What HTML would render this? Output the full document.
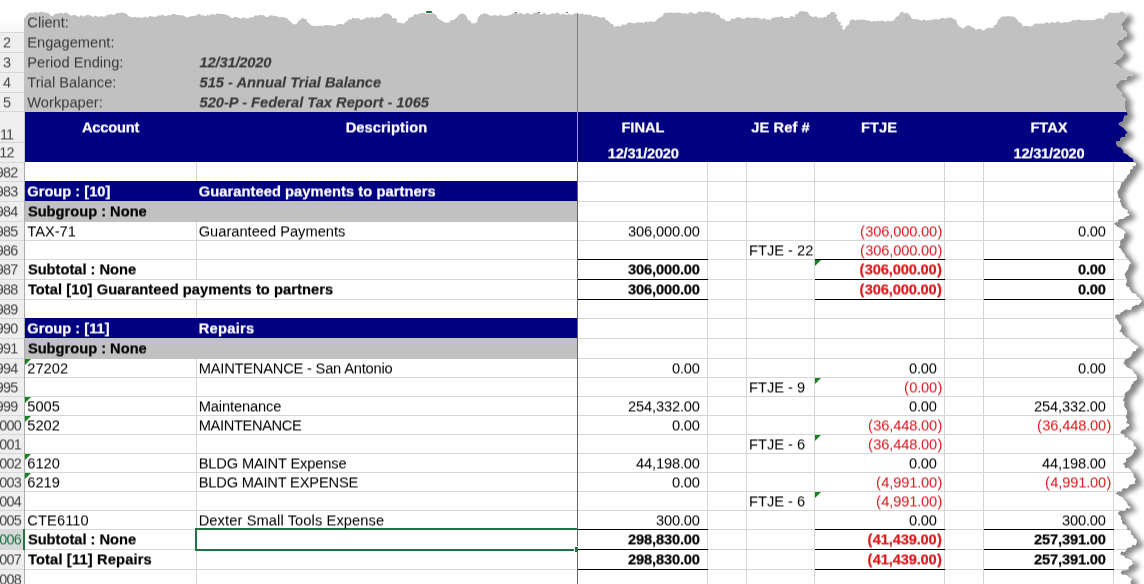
<!DOCTYPE html>
<html><head><meta charset="utf-8"><title>Trial Balance</title>
<style>
html,body{margin:0;padding:0;background:#fff;}
body{width:1144px;height:584px;overflow:hidden;position:relative;font-family:"Liberation Sans",sans-serif;font-size:14.67px;color:#000;}
#shadow{position:absolute;left:0;top:0;}
#txt{position:absolute;left:0;top:0;width:1144px;height:584px;filter:url(#sh);}
#paper{position:absolute;left:0;top:0;width:1144px;height:584px;overflow:hidden;background:#fff;clip-path:url(#tear);}
.b{position:absolute;}
.t{position:absolute;white-space:nowrap;line-height:19px;height:19px;}
.r{text-align:right;}
.c{text-align:center;}
.bd{font-weight:bold;-webkit-text-stroke:0.22px;}
.w{color:#fff;}
.red{color:#dc1a1c;}
.dg{color:#3a3a3a;}
.bi{font-weight:bold;font-style:italic;color:#3a3a3a;-webkit-text-stroke:0.15px;}
.sp{display:inline-block;width:5.7px;}
.n{letter-spacing:-0.15px;}
.m{margin:0 0.4px;}
.rh{position:absolute;left:-11.4px;width:36px;text-align:center;color:#444;line-height:19px;height:19px;font-size:14.4px;letter-spacing:-0.75px;white-space:nowrap;}
.tri{position:absolute;width:0;height:0;border-top:6px solid #14821e;border-right:6px solid transparent;}

</style></head><body>
<svg id="shadow" width="1144" height="584" viewBox="0 0 1144 584">
<defs><filter id="blur" x="-5%" y="-5%" width="110%" height="110%"><feGaussianBlur stdDeviation="2.8"/></filter>
<filter id="sh" x="0" y="0" width="100%" height="100%" color-interpolation-filters="sRGB"><feConvolveMatrix order="1 2" kernelMatrix="0.55 0.45" targetX="0" targetY="1" divisor="1" edgeMode="none" preserveAlpha="false"/></filter>
<clipPath id="tear" clipPathUnits="userSpaceOnUse"><polygon shape-rendering="crispEdges" points="-5.0,-5.0 24.0,-5.0 24.0,19.0 25.1,16.7 27.0,15.0 28.8,13.0 31.5,12.6 33.5,13.0 35.5,11.5 37.5,12.7 39.5,12.3 41.5,11.5 43.5,12.6 45.5,12.6 48.4,12.9 50.2,15.1 52.4,16.6 54.1,14.6 56.4,13.6 58.9,13.4 61.2,12.6 63.0,13.8 65.3,12.4 67.3,13.1 69.0,14.5 70.9,15.7 73.0,15.1 75.1,15.0 77.0,15.7 79.0,17.0 81.0,14.7 83.0,16.8 85.0,15.4 87.0,15.1 89.0,15.1 91.0,15.7 93.0,17.0 95.0,15.4 97.0,16.6 99.0,16.8 101.0,16.1 103.0,16.7 105.0,16.6 106.9,14.9 109.1,14.4 111.3,14.2 113.8,14.9 115.8,13.7 117.9,12.8 120.3,13.0 122.4,12.2 124.6,13.2 126.8,13.9 128.4,16.1 130.6,16.9 132.9,17.5 135.0,16.7 137.1,17.5 139.2,17.3 141.3,18.1 143.4,17.6 145.4,16.4 147.6,18.1 149.6,15.8 151.7,16.5 153.8,16.6 156.0,17.0 157.9,15.2 160.1,15.8 162.1,14.4 164.4,15.7 166.5,15.7 168.5,15.0 170.7,15.5 172.6,13.8 174.8,14.0 176.9,14.9 179.1,15.0 181.3,15.3 183.5,15.4 185.5,16.7 187.6,17.4 190.0,16.6 192.3,16.0 194.8,15.9 197.0,14.9 199.1,13.8 201.2,15.4 203.3,15.3 205.4,16.2 207.5,14.9 209.6,15.6 211.5,14.1 213.5,14.2 215.5,14.8 217.4,13.0 219.5,14.0 221.5,14.0 224.0,14.1 226.2,14.8 228.5,15.6 230.2,17.5 232.4,18.3 234.6,16.8 236.8,17.2 239.0,17.7 241.1,19.0 243.4,17.1 245.5,18.2 247.7,18.4 249.7,17.6 252.1,17.6 254.0,16.5 255.6,14.9 257.6,16.0 259.8,14.7 261.8,15.2 263.9,15.3 265.8,16.8 267.8,17.2 270.1,15.3 272.1,15.5 274.2,15.9 276.2,16.1 278.2,16.9 280.3,17.4 282.4,16.7 284.4,17.5 287.1,17.9 288.4,20.1 290.4,21.4 292.0,23.2 294.0,24.5 296.5,24.0 297.8,22.1 299.3,20.3 301.2,19.1 302.8,17.5 304.1,19.1 306.7,19.1 307.0,22.1 308.8,23.0 310.3,24.5 312.0,25.6 314.1,26.2 316.2,25.9 318.3,25.9 320.4,25.2 322.5,26.5 324.6,25.1 326.7,25.1 328.8,25.4 330.9,25.3 333.0,25.8 335.1,26.2 337.1,24.6 339.2,24.1 341.5,24.0 343.8,24.5 344.9,22.3 347.1,21.4 348.3,19.3 351.4,19.7 352.6,17.5 354.7,18.4 357.2,17.9 359.3,18.8 361.3,20.1 363.3,19.0 365.4,18.4 367.3,17.1 370.0,18.2 371.8,16.6 374.0,18.2 376.5,17.1 378.8,17.5 381.1,16.5 382.9,14.6 385.2,13.6 387.9,13.6 389.8,14.6 391.5,15.7 392.2,18.2 394.9,18.1 396.7,19.1 396.9,22.3 399.2,22.7 401.8,23.2 404.5,23.6 405.5,21.4 407.8,20.5 408.4,17.9 411.0,17.3 413.4,16.5 414.1,14.0 416.2,14.8 418.2,14.3 420.2,13.1 422.2,13.3 424.2,12.6 426.3,14.1 428.3,13.4 430.4,13.9 432.4,13.1 434.4,13.9 436.3,14.9 437.2,17.4 438.7,18.9 440.6,19.9 442.4,21.0 444.2,22.2 446.4,22.7 449.0,22.4 450.8,20.3 453.4,20.1 455.3,18.8 457.0,17.2 458.5,15.2 460.4,13.9 463.0,13.6 464.9,14.6 466.4,16.0 467.2,18.2 468.2,20.2 470.6,20.6 471.2,23.0 473.5,23.6 475.9,22.9 477.3,21.2 477.6,18.6 478.8,16.7 480.3,15.1 482.3,14.0 484.4,13.4 486.4,13.6 488.3,14.8 490.3,15.7 492.3,15.7 494.4,15.0 496.3,15.6 498.3,16.1 500.5,14.5 502.4,15.7 504.5,15.7 506.6,16.0 508.5,15.3 510.5,14.9 512.4,13.8 514.2,12.6 516.4,13.1 518.4,13.9 520.4,12.7 522.4,14.0 524.4,14.4 526.4,13.0 528.4,13.0 530.4,14.5 532.4,13.9 534.4,12.5 536.4,12.4 538.4,12.5 540.4,14.5 542.4,14.3 544.5,12.6 546.4,14.4 548.4,14.8 550.4,14.0 552.5,13.2 554.5,13.8 556.5,12.7 558.5,12.4 560.5,14.9 562.5,14.1 564.5,13.8 566.5,14.9 568.5,13.7 570.5,14.8 572.5,14.7 574.5,13.2 576.5,13.3 578.5,13.4 580.5,14.0 582.6,13.6 584.6,14.8 586.7,14.3 588.7,15.0 590.8,14.5 592.6,16.8 594.8,15.7 596.8,16.2 598.8,16.8 600.8,18.0 603.0,17.0 605.0,17.5 605.7,19.8 607.9,20.5 609.3,22.1 610.8,23.6 613.2,24.2 613.7,26.6 616.0,26.4 618.4,25.8 620.7,26.6 622.5,24.3 625.7,25.0 627.7,23.1 629.7,22.2 631.7,22.8 633.8,23.4 635.8,22.9 637.8,22.2 639.8,22.6 641.8,22.6 643.9,23.1 645.8,21.2 647.9,22.3 649.8,21.4 651.9,21.4 653.9,21.9 656.0,21.1 657.2,19.3 658.9,18.0 660.8,17.1 662.7,16.1 663.6,13.8 665.3,12.6 667.4,12.9 669.4,12.6 671.5,12.6 673.6,13.1 675.7,12.5 677.8,12.7 679.8,12.5 681.9,13.7 684.0,13.1 686.0,13.6 688.1,13.7 690.2,12.0 692.3,12.8 694.4,13.8 696.4,13.5 698.5,11.7 700.6,11.6 702.6,12.4 704.7,11.5 706.8,11.9 708.9,11.5 711.0,13.0 713.0,13.3 715.1,12.6 716.2,14.8 719.2,14.7 720.0,17.2 721.8,18.5 724.4,18.9 725.6,21.0 728.0,21.2 730.2,20.8 731.7,18.2 734.4,19.3 736.1,17.5 738.3,17.3 740.4,17.6 742.6,19.0 744.8,18.7 747.0,17.0 749.1,17.8 751.3,18.1 753.5,17.7 755.7,17.4 757.8,17.8 760.0,18.4 762.0,19.3 764.4,17.8 766.3,19.6 768.4,19.6 770.5,20.1 771.6,18.0 773.7,17.7 775.7,17.0 777.8,17.3 780.0,17.0 782.1,15.9 784.3,18.3 786.4,17.7 788.6,18.2 790.7,16.0 792.9,16.4 795.0,17.0 795.2,14.6 797.9,14.0 798.5,11.9 800.9,11.3 803.3,10.9 805.7,11.7 808.1,11.9 808.7,14.3 810.3,15.8 812.4,17.0 814.4,16.4 816.4,16.2 818.4,18.3 820.4,17.5 822.4,17.9 824.4,16.4 826.4,17.5 827.0,14.9 829.7,14.1 830.8,11.9 834.3,11.9 835.4,13.6 837.2,15.0 836.2,17.9 837.8,19.3 838.4,21.4 841.0,22.3 840.2,25.1 843.0,25.9 842.1,28.7 843.9,30.1 845.0,28.4 845.9,26.5 847.5,25.2 849.5,24.1 849.2,21.4 850.9,20.1 853.0,19.2 855.0,20.4 857.1,19.7 859.2,19.5 861.2,19.8 863.3,19.6 865.4,20.1 867.4,20.5 869.5,20.5 871.5,21.8 873.6,20.7 875.6,21.4 877.7,20.6 879.7,21.2 881.8,20.4 883.9,21.1 885.9,21.9 887.8,20.2 890.4,21.6 892.5,20.7 894.6,20.1 895.3,17.8 897.2,16.3 899.5,15.1 899.9,12.6 902.2,11.6 904.6,13.4 906.9,12.6 908.7,14.1 910.4,15.9 911.5,18.2 913.8,19.2 915.9,19.0 917.9,19.4 919.9,19.9 921.9,20.8 924.0,19.2 926.0,20.5 928.1,20.3 930.1,20.2 932.2,19.6 934.2,19.6 936.3,18.9 938.3,20.1 940.4,18.5 942.8,17.7 945.7,18.8 947.9,17.5 950.1,17.5 952.2,17.8 954.0,19.2 956.3,20.2 957.0,22.7 957.9,24.9 959.4,26.4 961.3,27.6 963.2,28.8 964.7,27.2 966.4,25.9 968.5,25.3 970.5,25.9 972.1,27.4 974.2,27.8 975.5,29.7 977.7,29.3 979.9,28.6 982.3,30.2 984.5,30.0 986.6,28.6 988.7,27.6 991.0,28.0 993.5,27.8 994.3,25.3 996.4,24.5 997.4,22.3 998.0,19.8 1000.1,18.4 1001.7,16.6 1003.9,16.5 1006.1,16.5 1008.2,15.7 1010.4,16.5 1012.6,16.4 1014.9,16.9 1015.9,18.8 1017.7,19.9 1018.6,21.9 1020.7,22.7 1022.1,24.1 1022.7,26.4 1024.9,25.9 1027.1,25.7 1029.3,26.6 1031.5,26.4 1033.4,24.9 1035.2,23.3 1037.3,23.8 1039.4,23.5 1041.5,23.5 1043.6,23.8 1045.6,22.5 1047.6,22.2 1049.8,23.8 1051.8,21.5 1053.9,22.9 1056.0,22.6 1058.0,20.9 1060.2,22.8 1062.2,22.9 1064.3,22.1 1066.4,22.2 1068.5,22.3 1070.5,21.4 1072.8,19.9 1075.5,20.2 1078.0,19.5 1080.1,19.5 1082.2,20.4 1084.3,20.3 1086.4,20.3 1088.5,19.7 1090.6,20.5 1092.7,20.0 1094.8,20.0 1096.9,18.8 1099.0,18.3 1101.1,18.5 1103.2,19.5 1104.2,17.6 1104.9,15.4 1107.7,14.8 1108.3,12.6 1110.5,12.8 1112.8,12.9 1115.0,12.9 1117.3,13.1 1119.5,12.6 1121.8,11.3 1124.0,12.6 1125.4,14.7 1127.8,15.7 1125.9,17.2 1125.0,19.5 1123.5,21.3 1121.9,23.1 1120.8,25.2 1123.0,26.6 1122.8,29.5 1125.1,30.9 1126.8,32.6 1127.1,35.2 1125.9,36.9 1123.5,37.2 1122.7,39.6 1120.3,39.7 1118.3,40.5 1117.4,42.8 1115.8,44.0 1117.5,45.3 1118.8,46.9 1119.9,48.8 1121.2,50.4 1122.9,51.6 1124.6,52.9 1122.9,54.1 1122.4,56.6 1120.8,57.9 1119.1,59.2 1116.7,59.8 1116.0,62.0 1114.1,63.0 1112.7,64.6 1115.1,64.2 1116.9,65.1 1118.6,66.3 1120.1,68.1 1121.9,68.9 1123.8,69.6 1126.1,69.5 1127.8,70.8 1129.7,71.4 1131.6,72.2 1133.8,72.1 1135.3,73.8 1132.9,73.9 1131.9,76.4 1129.1,75.6 1127.2,76.7 1126.4,79.8 1124.0,79.7 1121.7,79.9 1119.6,80.5 1118.3,82.7 1116.7,84.1 1114.5,84.5 1116.4,85.7 1116.1,88.5 1118.9,89.0 1119.4,91.3 1121.6,92.2 1122.0,94.5 1122.4,96.8 1124.6,97.8 1125.8,100.0 1124.2,102.5 1125.2,104.7 1124.5,107.1 1125.2,109.3 1125.9,111.6 1127.8,113.5 1127.0,115.5 1124.3,115.8 1123.8,118.0 1123.3,120.3 1122.0,121.9 1119.7,122.5 1118.3,124.0 1120.0,125.4 1121.8,126.7 1123.7,127.9 1124.9,129.8 1126.5,131.3 1127.8,133.2 1125.5,134.0 1125.2,137.1 1122.2,137.0 1120.4,138.3 1119.9,141.2 1116.8,141.0 1115.8,143.3 1116.9,145.2 1118.0,147.0 1120.6,147.3 1121.9,148.9 1123.3,150.4 1123.7,153.0 1125.9,153.7 1127.8,154.8 1129.1,156.4 1130.9,157.6 1132.8,158.6 1133.4,160.9 1136.0,163.4 1135.6,165.8 1132.8,166.4 1132.7,169.0 1130.0,169.8 1130.2,172.6 1128.9,174.3 1127.1,175.7 1126.5,177.9 1124.6,179.2 1124.0,181.2 1121.8,182.3 1121.1,184.2 1120.4,186.2 1120.0,188.2 1118.5,189.7 1117.5,191.5 1117.7,193.8 1118.2,195.7 1118.4,197.8 1120.7,199.1 1119.7,201.6 1121.0,203.3 1121.5,205.2 1122.4,207.1 1124.0,208.4 1126.0,209.2 1127.8,210.3 1127.5,213.3 1129.7,214.0 1128.5,215.9 1126.2,216.3 1124.7,217.7 1123.0,218.9 1120.6,219.0 1118.5,219.6 1117.7,222.3 1115.4,222.5 1113.9,224.0 1115.9,224.9 1117.2,226.7 1119.2,227.6 1121.3,228.4 1123.0,229.7 1124.6,231.0 1125.9,232.9 1124.0,234.2 1124.0,236.4 1123.7,238.5 1121.2,239.4 1120.0,241.1 1120.3,243.5 1120.1,245.7 1118.3,247.0 1120.2,248.3 1121.7,249.9 1122.4,252.1 1124.2,253.4 1125.2,255.4 1125.9,257.6 1128.2,259.1 1129.5,261.5 1131.5,263.3 1129.5,264.5 1128.7,266.5 1128.2,268.8 1127.1,270.6 1125.7,272.2 1124.6,274.0 1125.3,276.0 1125.8,278.1 1126.9,280.1 1126.8,282.3 1125.4,284.7 1127.0,286.6 1129.1,287.3 1129.9,289.5 1131.1,291.1 1132.2,293.0 1134.8,293.2 1136.2,294.7 1137.2,296.6 1139.2,297.6 1140.6,299.3 1142.0,301.0 1140.4,303.1 1138.5,305.0 1136.1,304.8 1134.3,305.9 1132.3,306.6 1131.2,309.5 1129.3,310.3 1126.6,309.6 1124.5,309.9 1123.0,311.8 1120.9,312.4 1119.6,314.6 1117.3,314.5 1115.2,315.1 1115.5,317.7 1117.0,319.6 1118.2,321.6 1119.2,323.8 1121.5,325.2 1121.3,327.5 1120.8,329.8 1119.0,331.5 1121.4,332.0 1122.7,334.1 1124.4,335.7 1125.9,337.5 1128.4,337.8 1129.4,339.6 1131.0,340.9 1132.2,342.6 1134.2,343.4 1135.5,345.0 1137.9,345.5 1138.5,347.8 1136.5,348.7 1136.0,351.1 1133.3,351.2 1132.3,353.2 1131.4,355.2 1130.2,357.0 1128.5,358.1 1126.3,358.8 1124.7,360.1 1124.3,362.6 1122.1,363.3 1124.6,363.7 1125.8,366.0 1127.6,367.5 1129.8,368.4 1131.9,369.4 1133.4,371.3 1134.1,373.3 1136.4,374.5 1136.7,376.8 1137.2,378.9 1136.0,380.5 1133.7,381.3 1133.1,383.4 1131.4,384.6 1130.9,386.8 1130.2,388.8 1128.9,390.3 1127.1,391.5 1124.9,393.2 1124.4,395.7 1124.2,398.3 1122.7,400.3 1124.6,402.0 1124.2,404.5 1124.5,406.7 1125.8,408.6 1127.0,410.6 1127.1,412.9 1126.4,414.9 1125.5,416.8 1127.1,419.0 1127.3,421.1 1125.9,423.0 1128.0,423.6 1129.7,425.0 1128.2,426.4 1126.2,427.2 1125.4,429.4 1122.9,429.5 1121.4,430.8 1120.2,432.6 1122.0,433.9 1124.2,434.5 1124.8,437.4 1127.6,437.2 1128.6,439.5 1130.9,440.1 1132.6,441.5 1133.8,443.3 1133.7,445.8 1135.9,446.9 1136.6,449.0 1134.3,449.7 1133.8,452.0 1133.0,454.1 1131.6,455.5 1129.8,456.7 1127.9,457.8 1126.0,458.8 1126.2,461.7 1124.3,462.8 1122.7,464.1 1124.7,465.0 1124.9,467.9 1127.9,467.7 1129.6,469.0 1131.1,470.4 1132.1,472.5 1133.4,474.1 1133.8,477.1 1136.0,479.2 1134.7,481.3 1135.3,483.8 1133.2,484.1 1131.1,484.3 1129.3,485.3 1128.2,487.6 1126.5,488.8 1123.9,487.9 1122.2,489.2 1121.2,491.7 1118.7,491.1 1117.2,492.6 1115.2,493.2 1117.1,494.3 1118.9,495.6 1120.8,496.6 1122.8,497.6 1124.1,499.5 1125.6,501.0 1127.1,502.7 1128.1,505.7 1130.9,507.1 1129.4,508.8 1126.6,507.7 1125.6,510.3 1123.5,510.8 1121.1,510.6 1119.2,511.4 1117.7,513.0 1118.9,514.8 1120.8,516.3 1120.9,518.7 1122.2,520.5 1122.0,523.1 1124.0,524.5 1126.0,525.6 1127.0,527.5 1127.2,530.0 1130.3,530.2 1130.9,532.4 1131.4,534.7 1133.4,535.8 1133.6,537.9 1136.1,539.1 1136.9,541.0 1136.6,543.3 1135.4,545.4 1132.4,544.7 1131.5,547.3 1129.0,547.4 1126.9,548.3 1125.9,550.7 1124.2,552.0 1121.4,551.6 1120.2,553.8 1121.8,555.3 1124.2,555.8 1125.3,558.0 1127.7,558.5 1129.6,559.6 1131.8,560.3 1132.5,563.2 1134.7,563.9 1132.4,564.1 1131.0,565.8 1128.9,566.2 1128.4,569.3 1126.4,570.0 1124.3,570.6 1121.9,570.6 1120.8,572.7 1122.1,574.8 1124.7,574.5 1126.8,575.3 1128.5,576.7 1130.3,577.9 1132.2,579.0 1130.5,581.2 1131.0,584.0 1131.8,586.0 1130.2,588.0 1131.0,590.0 -5.0,590.0"/></clipPath></defs>
<clipPath id="rs"><rect x="1100" y="8" width="60" height="600"/></clipPath>
<g clip-path="url(#rs)"><polygon points="-5.0,-5.0 24.0,-5.0 24.0,19.0 25.1,16.7 27.0,15.0 28.8,13.0 31.5,12.6 33.5,13.0 35.5,11.5 37.5,12.7 39.5,12.3 41.5,11.5 43.5,12.6 45.5,12.6 48.4,12.9 50.2,15.1 52.4,16.6 54.1,14.6 56.4,13.6 58.9,13.4 61.2,12.6 63.0,13.8 65.3,12.4 67.3,13.1 69.0,14.5 70.9,15.7 73.0,15.1 75.1,15.0 77.0,15.7 79.0,17.0 81.0,14.7 83.0,16.8 85.0,15.4 87.0,15.1 89.0,15.1 91.0,15.7 93.0,17.0 95.0,15.4 97.0,16.6 99.0,16.8 101.0,16.1 103.0,16.7 105.0,16.6 106.9,14.9 109.1,14.4 111.3,14.2 113.8,14.9 115.8,13.7 117.9,12.8 120.3,13.0 122.4,12.2 124.6,13.2 126.8,13.9 128.4,16.1 130.6,16.9 132.9,17.5 135.0,16.7 137.1,17.5 139.2,17.3 141.3,18.1 143.4,17.6 145.4,16.4 147.6,18.1 149.6,15.8 151.7,16.5 153.8,16.6 156.0,17.0 157.9,15.2 160.1,15.8 162.1,14.4 164.4,15.7 166.5,15.7 168.5,15.0 170.7,15.5 172.6,13.8 174.8,14.0 176.9,14.9 179.1,15.0 181.3,15.3 183.5,15.4 185.5,16.7 187.6,17.4 190.0,16.6 192.3,16.0 194.8,15.9 197.0,14.9 199.1,13.8 201.2,15.4 203.3,15.3 205.4,16.2 207.5,14.9 209.6,15.6 211.5,14.1 213.5,14.2 215.5,14.8 217.4,13.0 219.5,14.0 221.5,14.0 224.0,14.1 226.2,14.8 228.5,15.6 230.2,17.5 232.4,18.3 234.6,16.8 236.8,17.2 239.0,17.7 241.1,19.0 243.4,17.1 245.5,18.2 247.7,18.4 249.7,17.6 252.1,17.6 254.0,16.5 255.6,14.9 257.6,16.0 259.8,14.7 261.8,15.2 263.9,15.3 265.8,16.8 267.8,17.2 270.1,15.3 272.1,15.5 274.2,15.9 276.2,16.1 278.2,16.9 280.3,17.4 282.4,16.7 284.4,17.5 287.1,17.9 288.4,20.1 290.4,21.4 292.0,23.2 294.0,24.5 296.5,24.0 297.8,22.1 299.3,20.3 301.2,19.1 302.8,17.5 304.1,19.1 306.7,19.1 307.0,22.1 308.8,23.0 310.3,24.5 312.0,25.6 314.1,26.2 316.2,25.9 318.3,25.9 320.4,25.2 322.5,26.5 324.6,25.1 326.7,25.1 328.8,25.4 330.9,25.3 333.0,25.8 335.1,26.2 337.1,24.6 339.2,24.1 341.5,24.0 343.8,24.5 344.9,22.3 347.1,21.4 348.3,19.3 351.4,19.7 352.6,17.5 354.7,18.4 357.2,17.9 359.3,18.8 361.3,20.1 363.3,19.0 365.4,18.4 367.3,17.1 370.0,18.2 371.8,16.6 374.0,18.2 376.5,17.1 378.8,17.5 381.1,16.5 382.9,14.6 385.2,13.6 387.9,13.6 389.8,14.6 391.5,15.7 392.2,18.2 394.9,18.1 396.7,19.1 396.9,22.3 399.2,22.7 401.8,23.2 404.5,23.6 405.5,21.4 407.8,20.5 408.4,17.9 411.0,17.3 413.4,16.5 414.1,14.0 416.2,14.8 418.2,14.3 420.2,13.1 422.2,13.3 424.2,12.6 426.3,14.1 428.3,13.4 430.4,13.9 432.4,13.1 434.4,13.9 436.3,14.9 437.2,17.4 438.7,18.9 440.6,19.9 442.4,21.0 444.2,22.2 446.4,22.7 449.0,22.4 450.8,20.3 453.4,20.1 455.3,18.8 457.0,17.2 458.5,15.2 460.4,13.9 463.0,13.6 464.9,14.6 466.4,16.0 467.2,18.2 468.2,20.2 470.6,20.6 471.2,23.0 473.5,23.6 475.9,22.9 477.3,21.2 477.6,18.6 478.8,16.7 480.3,15.1 482.3,14.0 484.4,13.4 486.4,13.6 488.3,14.8 490.3,15.7 492.3,15.7 494.4,15.0 496.3,15.6 498.3,16.1 500.5,14.5 502.4,15.7 504.5,15.7 506.6,16.0 508.5,15.3 510.5,14.9 512.4,13.8 514.2,12.6 516.4,13.1 518.4,13.9 520.4,12.7 522.4,14.0 524.4,14.4 526.4,13.0 528.4,13.0 530.4,14.5 532.4,13.9 534.4,12.5 536.4,12.4 538.4,12.5 540.4,14.5 542.4,14.3 544.5,12.6 546.4,14.4 548.4,14.8 550.4,14.0 552.5,13.2 554.5,13.8 556.5,12.7 558.5,12.4 560.5,14.9 562.5,14.1 564.5,13.8 566.5,14.9 568.5,13.7 570.5,14.8 572.5,14.7 574.5,13.2 576.5,13.3 578.5,13.4 580.5,14.0 582.6,13.6 584.6,14.8 586.7,14.3 588.7,15.0 590.8,14.5 592.6,16.8 594.8,15.7 596.8,16.2 598.8,16.8 600.8,18.0 603.0,17.0 605.0,17.5 605.7,19.8 607.9,20.5 609.3,22.1 610.8,23.6 613.2,24.2 613.7,26.6 616.0,26.4 618.4,25.8 620.7,26.6 622.5,24.3 625.7,25.0 627.7,23.1 629.7,22.2 631.7,22.8 633.8,23.4 635.8,22.9 637.8,22.2 639.8,22.6 641.8,22.6 643.9,23.1 645.8,21.2 647.9,22.3 649.8,21.4 651.9,21.4 653.9,21.9 656.0,21.1 657.2,19.3 658.9,18.0 660.8,17.1 662.7,16.1 663.6,13.8 665.3,12.6 667.4,12.9 669.4,12.6 671.5,12.6 673.6,13.1 675.7,12.5 677.8,12.7 679.8,12.5 681.9,13.7 684.0,13.1 686.0,13.6 688.1,13.7 690.2,12.0 692.3,12.8 694.4,13.8 696.4,13.5 698.5,11.7 700.6,11.6 702.6,12.4 704.7,11.5 706.8,11.9 708.9,11.5 711.0,13.0 713.0,13.3 715.1,12.6 716.2,14.8 719.2,14.7 720.0,17.2 721.8,18.5 724.4,18.9 725.6,21.0 728.0,21.2 730.2,20.8 731.7,18.2 734.4,19.3 736.1,17.5 738.3,17.3 740.4,17.6 742.6,19.0 744.8,18.7 747.0,17.0 749.1,17.8 751.3,18.1 753.5,17.7 755.7,17.4 757.8,17.8 760.0,18.4 762.0,19.3 764.4,17.8 766.3,19.6 768.4,19.6 770.5,20.1 771.6,18.0 773.7,17.7 775.7,17.0 777.8,17.3 780.0,17.0 782.1,15.9 784.3,18.3 786.4,17.7 788.6,18.2 790.7,16.0 792.9,16.4 795.0,17.0 795.2,14.6 797.9,14.0 798.5,11.9 800.9,11.3 803.3,10.9 805.7,11.7 808.1,11.9 808.7,14.3 810.3,15.8 812.4,17.0 814.4,16.4 816.4,16.2 818.4,18.3 820.4,17.5 822.4,17.9 824.4,16.4 826.4,17.5 827.0,14.9 829.7,14.1 830.8,11.9 834.3,11.9 835.4,13.6 837.2,15.0 836.2,17.9 837.8,19.3 838.4,21.4 841.0,22.3 840.2,25.1 843.0,25.9 842.1,28.7 843.9,30.1 845.0,28.4 845.9,26.5 847.5,25.2 849.5,24.1 849.2,21.4 850.9,20.1 853.0,19.2 855.0,20.4 857.1,19.7 859.2,19.5 861.2,19.8 863.3,19.6 865.4,20.1 867.4,20.5 869.5,20.5 871.5,21.8 873.6,20.7 875.6,21.4 877.7,20.6 879.7,21.2 881.8,20.4 883.9,21.1 885.9,21.9 887.8,20.2 890.4,21.6 892.5,20.7 894.6,20.1 895.3,17.8 897.2,16.3 899.5,15.1 899.9,12.6 902.2,11.6 904.6,13.4 906.9,12.6 908.7,14.1 910.4,15.9 911.5,18.2 913.8,19.2 915.9,19.0 917.9,19.4 919.9,19.9 921.9,20.8 924.0,19.2 926.0,20.5 928.1,20.3 930.1,20.2 932.2,19.6 934.2,19.6 936.3,18.9 938.3,20.1 940.4,18.5 942.8,17.7 945.7,18.8 947.9,17.5 950.1,17.5 952.2,17.8 954.0,19.2 956.3,20.2 957.0,22.7 957.9,24.9 959.4,26.4 961.3,27.6 963.2,28.8 964.7,27.2 966.4,25.9 968.5,25.3 970.5,25.9 972.1,27.4 974.2,27.8 975.5,29.7 977.7,29.3 979.9,28.6 982.3,30.2 984.5,30.0 986.6,28.6 988.7,27.6 991.0,28.0 993.5,27.8 994.3,25.3 996.4,24.5 997.4,22.3 998.0,19.8 1000.1,18.4 1001.7,16.6 1003.9,16.5 1006.1,16.5 1008.2,15.7 1010.4,16.5 1012.6,16.4 1014.9,16.9 1015.9,18.8 1017.7,19.9 1018.6,21.9 1020.7,22.7 1022.1,24.1 1022.7,26.4 1024.9,25.9 1027.1,25.7 1029.3,26.6 1031.5,26.4 1033.4,24.9 1035.2,23.3 1037.3,23.8 1039.4,23.5 1041.5,23.5 1043.6,23.8 1045.6,22.5 1047.6,22.2 1049.8,23.8 1051.8,21.5 1053.9,22.9 1056.0,22.6 1058.0,20.9 1060.2,22.8 1062.2,22.9 1064.3,22.1 1066.4,22.2 1068.5,22.3 1070.5,21.4 1072.8,19.9 1075.5,20.2 1078.0,19.5 1080.1,19.5 1082.2,20.4 1084.3,20.3 1086.4,20.3 1088.5,19.7 1090.6,20.5 1092.7,20.0 1094.8,20.0 1096.9,18.8 1099.0,18.3 1101.1,18.5 1103.2,19.5 1104.2,17.6 1104.9,15.4 1107.7,14.8 1108.3,12.6 1110.5,12.8 1112.8,12.9 1115.0,12.9 1117.3,13.1 1119.5,12.6 1121.8,11.3 1124.0,12.6 1125.4,14.7 1127.8,15.7 1125.9,17.2 1125.0,19.5 1123.5,21.3 1121.9,23.1 1120.8,25.2 1123.0,26.6 1122.8,29.5 1125.1,30.9 1126.8,32.6 1127.1,35.2 1125.9,36.9 1123.5,37.2 1122.7,39.6 1120.3,39.7 1118.3,40.5 1117.4,42.8 1115.8,44.0 1117.5,45.3 1118.8,46.9 1119.9,48.8 1121.2,50.4 1122.9,51.6 1124.6,52.9 1122.9,54.1 1122.4,56.6 1120.8,57.9 1119.1,59.2 1116.7,59.8 1116.0,62.0 1114.1,63.0 1112.7,64.6 1115.1,64.2 1116.9,65.1 1118.6,66.3 1120.1,68.1 1121.9,68.9 1123.8,69.6 1126.1,69.5 1127.8,70.8 1129.7,71.4 1131.6,72.2 1133.8,72.1 1135.3,73.8 1132.9,73.9 1131.9,76.4 1129.1,75.6 1127.2,76.7 1126.4,79.8 1124.0,79.7 1121.7,79.9 1119.6,80.5 1118.3,82.7 1116.7,84.1 1114.5,84.5 1116.4,85.7 1116.1,88.5 1118.9,89.0 1119.4,91.3 1121.6,92.2 1122.0,94.5 1122.4,96.8 1124.6,97.8 1125.8,100.0 1124.2,102.5 1125.2,104.7 1124.5,107.1 1125.2,109.3 1125.9,111.6 1127.8,113.5 1127.0,115.5 1124.3,115.8 1123.8,118.0 1123.3,120.3 1122.0,121.9 1119.7,122.5 1118.3,124.0 1120.0,125.4 1121.8,126.7 1123.7,127.9 1124.9,129.8 1126.5,131.3 1127.8,133.2 1125.5,134.0 1125.2,137.1 1122.2,137.0 1120.4,138.3 1119.9,141.2 1116.8,141.0 1115.8,143.3 1116.9,145.2 1118.0,147.0 1120.6,147.3 1121.9,148.9 1123.3,150.4 1123.7,153.0 1125.9,153.7 1127.8,154.8 1129.1,156.4 1130.9,157.6 1132.8,158.6 1133.4,160.9 1136.0,163.4 1135.6,165.8 1132.8,166.4 1132.7,169.0 1130.0,169.8 1130.2,172.6 1128.9,174.3 1127.1,175.7 1126.5,177.9 1124.6,179.2 1124.0,181.2 1121.8,182.3 1121.1,184.2 1120.4,186.2 1120.0,188.2 1118.5,189.7 1117.5,191.5 1117.7,193.8 1118.2,195.7 1118.4,197.8 1120.7,199.1 1119.7,201.6 1121.0,203.3 1121.5,205.2 1122.4,207.1 1124.0,208.4 1126.0,209.2 1127.8,210.3 1127.5,213.3 1129.7,214.0 1128.5,215.9 1126.2,216.3 1124.7,217.7 1123.0,218.9 1120.6,219.0 1118.5,219.6 1117.7,222.3 1115.4,222.5 1113.9,224.0 1115.9,224.9 1117.2,226.7 1119.2,227.6 1121.3,228.4 1123.0,229.7 1124.6,231.0 1125.9,232.9 1124.0,234.2 1124.0,236.4 1123.7,238.5 1121.2,239.4 1120.0,241.1 1120.3,243.5 1120.1,245.7 1118.3,247.0 1120.2,248.3 1121.7,249.9 1122.4,252.1 1124.2,253.4 1125.2,255.4 1125.9,257.6 1128.2,259.1 1129.5,261.5 1131.5,263.3 1129.5,264.5 1128.7,266.5 1128.2,268.8 1127.1,270.6 1125.7,272.2 1124.6,274.0 1125.3,276.0 1125.8,278.1 1126.9,280.1 1126.8,282.3 1125.4,284.7 1127.0,286.6 1129.1,287.3 1129.9,289.5 1131.1,291.1 1132.2,293.0 1134.8,293.2 1136.2,294.7 1137.2,296.6 1139.2,297.6 1140.6,299.3 1142.0,301.0 1140.4,303.1 1138.5,305.0 1136.1,304.8 1134.3,305.9 1132.3,306.6 1131.2,309.5 1129.3,310.3 1126.6,309.6 1124.5,309.9 1123.0,311.8 1120.9,312.4 1119.6,314.6 1117.3,314.5 1115.2,315.1 1115.5,317.7 1117.0,319.6 1118.2,321.6 1119.2,323.8 1121.5,325.2 1121.3,327.5 1120.8,329.8 1119.0,331.5 1121.4,332.0 1122.7,334.1 1124.4,335.7 1125.9,337.5 1128.4,337.8 1129.4,339.6 1131.0,340.9 1132.2,342.6 1134.2,343.4 1135.5,345.0 1137.9,345.5 1138.5,347.8 1136.5,348.7 1136.0,351.1 1133.3,351.2 1132.3,353.2 1131.4,355.2 1130.2,357.0 1128.5,358.1 1126.3,358.8 1124.7,360.1 1124.3,362.6 1122.1,363.3 1124.6,363.7 1125.8,366.0 1127.6,367.5 1129.8,368.4 1131.9,369.4 1133.4,371.3 1134.1,373.3 1136.4,374.5 1136.7,376.8 1137.2,378.9 1136.0,380.5 1133.7,381.3 1133.1,383.4 1131.4,384.6 1130.9,386.8 1130.2,388.8 1128.9,390.3 1127.1,391.5 1124.9,393.2 1124.4,395.7 1124.2,398.3 1122.7,400.3 1124.6,402.0 1124.2,404.5 1124.5,406.7 1125.8,408.6 1127.0,410.6 1127.1,412.9 1126.4,414.9 1125.5,416.8 1127.1,419.0 1127.3,421.1 1125.9,423.0 1128.0,423.6 1129.7,425.0 1128.2,426.4 1126.2,427.2 1125.4,429.4 1122.9,429.5 1121.4,430.8 1120.2,432.6 1122.0,433.9 1124.2,434.5 1124.8,437.4 1127.6,437.2 1128.6,439.5 1130.9,440.1 1132.6,441.5 1133.8,443.3 1133.7,445.8 1135.9,446.9 1136.6,449.0 1134.3,449.7 1133.8,452.0 1133.0,454.1 1131.6,455.5 1129.8,456.7 1127.9,457.8 1126.0,458.8 1126.2,461.7 1124.3,462.8 1122.7,464.1 1124.7,465.0 1124.9,467.9 1127.9,467.7 1129.6,469.0 1131.1,470.4 1132.1,472.5 1133.4,474.1 1133.8,477.1 1136.0,479.2 1134.7,481.3 1135.3,483.8 1133.2,484.1 1131.1,484.3 1129.3,485.3 1128.2,487.6 1126.5,488.8 1123.9,487.9 1122.2,489.2 1121.2,491.7 1118.7,491.1 1117.2,492.6 1115.2,493.2 1117.1,494.3 1118.9,495.6 1120.8,496.6 1122.8,497.6 1124.1,499.5 1125.6,501.0 1127.1,502.7 1128.1,505.7 1130.9,507.1 1129.4,508.8 1126.6,507.7 1125.6,510.3 1123.5,510.8 1121.1,510.6 1119.2,511.4 1117.7,513.0 1118.9,514.8 1120.8,516.3 1120.9,518.7 1122.2,520.5 1122.0,523.1 1124.0,524.5 1126.0,525.6 1127.0,527.5 1127.2,530.0 1130.3,530.2 1130.9,532.4 1131.4,534.7 1133.4,535.8 1133.6,537.9 1136.1,539.1 1136.9,541.0 1136.6,543.3 1135.4,545.4 1132.4,544.7 1131.5,547.3 1129.0,547.4 1126.9,548.3 1125.9,550.7 1124.2,552.0 1121.4,551.6 1120.2,553.8 1121.8,555.3 1124.2,555.8 1125.3,558.0 1127.7,558.5 1129.6,559.6 1131.8,560.3 1132.5,563.2 1134.7,563.9 1132.4,564.1 1131.0,565.8 1128.9,566.2 1128.4,569.3 1126.4,570.0 1124.3,570.6 1121.9,570.6 1120.8,572.7 1122.1,574.8 1124.7,574.5 1126.8,575.3 1128.5,576.7 1130.3,577.9 1132.2,579.0 1130.5,581.2 1131.0,584.0 1131.8,586.0 1130.2,588.0 1131.0,590.0 -5.0,590.0" transform="translate(6.5,3)" fill="#000" fill-opacity="0.46" filter="url(#blur)"/></g>
</svg>
<div id="paper">
<div class="b" style="left:0px;top:0px;width:24px;height:584px;background:#eeeeee;"></div>
<div class="b" style="left:0;top:0;width:25px;height:32px;background:linear-gradient(#fff 0,#fff 20px,#f6f6f6 32px);"></div>
<div class="b" style="left:24px;top:112px;width:1px;height:50px;background:#c4c4d4;"></div>
<div class="b" style="left:24px;top:162px;width:1px;height:422px;background:#ababab;"></div>
<div class="b" style="left:24px;top:0px;width:1120px;height:112px;background:#c1c1c1;"></div>
<div class="b" style="left:25px;top:112px;width:1119px;height:50px;background:#000080;"></div>
<div class="b" style="left:25px;top:181px;width:1119px;height:1px;background:#d6d6d6;"></div>
<div class="b" style="left:25px;top:201px;width:1119px;height:1px;background:#d6d6d6;"></div>
<div class="b" style="left:25px;top:221px;width:1119px;height:1px;background:#d6d6d6;"></div>
<div class="b" style="left:25px;top:240px;width:1119px;height:1px;background:#d6d6d6;"></div>
<div class="b" style="left:25px;top:259px;width:1119px;height:1px;background:#d6d6d6;"></div>
<div class="b" style="left:25px;top:279px;width:1119px;height:1px;background:#d6d6d6;"></div>
<div class="b" style="left:25px;top:299px;width:1119px;height:1px;background:#d6d6d6;"></div>
<div class="b" style="left:25px;top:318px;width:1119px;height:1px;background:#d6d6d6;"></div>
<div class="b" style="left:25px;top:338px;width:1119px;height:1px;background:#d6d6d6;"></div>
<div class="b" style="left:25px;top:358px;width:1119px;height:1px;background:#d6d6d6;"></div>
<div class="b" style="left:25px;top:377px;width:1119px;height:1px;background:#d6d6d6;"></div>
<div class="b" style="left:25px;top:396px;width:1119px;height:1px;background:#d6d6d6;"></div>
<div class="b" style="left:25px;top:415px;width:1119px;height:1px;background:#d6d6d6;"></div>
<div class="b" style="left:25px;top:434px;width:1119px;height:1px;background:#d6d6d6;"></div>
<div class="b" style="left:25px;top:453px;width:1119px;height:1px;background:#d6d6d6;"></div>
<div class="b" style="left:25px;top:472px;width:1119px;height:1px;background:#d6d6d6;"></div>
<div class="b" style="left:25px;top:491px;width:1119px;height:1px;background:#d6d6d6;"></div>
<div class="b" style="left:25px;top:510px;width:1119px;height:1px;background:#d6d6d6;"></div>
<div class="b" style="left:25px;top:529px;width:1119px;height:1px;background:#d6d6d6;"></div>
<div class="b" style="left:25px;top:549px;width:1119px;height:1px;background:#d6d6d6;"></div>
<div class="b" style="left:25px;top:569px;width:1119px;height:1px;background:#d6d6d6;"></div>
<div class="b" style="left:196px;top:162px;width:1px;height:422px;background:#d6d6d6;"></div>
<div class="b" style="left:707px;top:162px;width:1px;height:422px;background:#d6d6d6;"></div>
<div class="b" style="left:746px;top:162px;width:1px;height:422px;background:#d6d6d6;"></div>
<div class="b" style="left:814px;top:162px;width:1px;height:422px;background:#d6d6d6;"></div>
<div class="b" style="left:944px;top:162px;width:1px;height:422px;background:#d6d6d6;"></div>
<div class="b" style="left:983px;top:162px;width:1px;height:422px;background:#d6d6d6;"></div>
<div class="b" style="left:1113px;top:162px;width:1px;height:422px;background:#d6d6d6;"></div>
<div class="b" style="left:25px;top:181px;width:552px;height:20px;background:#000080;"></div>
<div class="b" style="left:25px;top:201px;width:552px;height:21px;background:#c1c1c1;"></div>
<div class="b" style="left:25px;top:318px;width:552px;height:20px;background:#000080;"></div>
<div class="b" style="left:25px;top:338px;width:552px;height:21px;background:#c1c1c1;"></div>
<div class="b" style="left:196px;top:280px;width:1px;height:19px;background:#fff;"></div>
<div class="b" style="left:577px;top:0px;width:1px;height:112px;background:#7d7d7d;"></div>
<div class="b" style="left:577px;top:112px;width:1px;height:50px;background:#9a9ac0;"></div>
<div class="b" style="left:577px;top:162px;width:1px;height:422px;background:#646464;"></div>
<div class="b" style="left:578px;top:259px;width:130px;height:1px;background:#000;"></div>
<div class="b" style="left:578px;top:279px;width:130px;height:1px;background:#000;"></div>
<div class="b" style="left:578px;top:299px;width:130px;height:1px;background:#000;"></div>
<div class="b" style="left:815px;top:259px;width:130px;height:1px;background:#000;"></div>
<div class="b" style="left:815px;top:279px;width:130px;height:1px;background:#000;"></div>
<div class="b" style="left:815px;top:299px;width:130px;height:1px;background:#000;"></div>
<div class="b" style="left:984px;top:259px;width:130px;height:1px;background:#000;"></div>
<div class="b" style="left:984px;top:279px;width:130px;height:1px;background:#000;"></div>
<div class="b" style="left:984px;top:299px;width:130px;height:1px;background:#000;"></div>
<div class="b" style="left:578px;top:529px;width:130px;height:1px;background:#000;"></div>
<div class="b" style="left:578px;top:549px;width:130px;height:1px;background:#000;"></div>
<div class="b" style="left:578px;top:569px;width:130px;height:1px;background:#000;"></div>
<div class="b" style="left:815px;top:529px;width:130px;height:1px;background:#000;"></div>
<div class="b" style="left:815px;top:549px;width:130px;height:1px;background:#000;"></div>
<div class="b" style="left:815px;top:569px;width:130px;height:1px;background:#000;"></div>
<div class="b" style="left:984px;top:529px;width:130px;height:1px;background:#000;"></div>
<div class="b" style="left:984px;top:549px;width:130px;height:1px;background:#000;"></div>
<div class="b" style="left:984px;top:569px;width:130px;height:1px;background:#000;"></div>
<div class="b" style="left:0px;top:32px;width:24px;height:1px;background:#d6d6d6;"></div>
<div class="b" style="left:0px;top:52px;width:24px;height:1px;background:#d6d6d6;"></div>
<div class="b" style="left:0px;top:72px;width:24px;height:1px;background:#d6d6d6;"></div>
<div class="b" style="left:0px;top:92px;width:24px;height:1px;background:#d6d6d6;"></div>
<div class="b" style="left:0px;top:111px;width:24px;height:1px;background:#d6d6d6;"></div>
<div class="b" style="left:0px;top:142px;width:24px;height:1px;background:#d6d6d6;"></div>
<div class="b" style="left:0px;top:162px;width:24px;height:1px;background:#d6d6d6;"></div>
<div class="b" style="left:0px;top:181px;width:24px;height:1px;background:#d6d6d6;"></div>
<div class="b" style="left:0px;top:201px;width:24px;height:1px;background:#d6d6d6;"></div>
<div class="b" style="left:0px;top:221px;width:24px;height:1px;background:#d6d6d6;"></div>
<div class="b" style="left:0px;top:240px;width:24px;height:1px;background:#d6d6d6;"></div>
<div class="b" style="left:0px;top:259px;width:24px;height:1px;background:#d6d6d6;"></div>
<div class="b" style="left:0px;top:279px;width:24px;height:1px;background:#d6d6d6;"></div>
<div class="b" style="left:0px;top:299px;width:24px;height:1px;background:#d6d6d6;"></div>
<div class="b" style="left:0px;top:318px;width:24px;height:1px;background:#d6d6d6;"></div>
<div class="b" style="left:0px;top:338px;width:24px;height:1px;background:#d6d6d6;"></div>
<div class="b" style="left:0px;top:358px;width:24px;height:1px;background:#d6d6d6;"></div>
<div class="b" style="left:0px;top:377px;width:24px;height:1px;background:#d6d6d6;"></div>
<div class="b" style="left:0px;top:396px;width:24px;height:1px;background:#d6d6d6;"></div>
<div class="b" style="left:0px;top:415px;width:24px;height:1px;background:#d6d6d6;"></div>
<div class="b" style="left:0px;top:434px;width:24px;height:1px;background:#d6d6d6;"></div>
<div class="b" style="left:0px;top:453px;width:24px;height:1px;background:#d6d6d6;"></div>
<div class="b" style="left:0px;top:472px;width:24px;height:1px;background:#d6d6d6;"></div>
<div class="b" style="left:0px;top:491px;width:24px;height:1px;background:#d6d6d6;"></div>
<div class="b" style="left:0px;top:510px;width:24px;height:1px;background:#d6d6d6;"></div>
<div class="b" style="left:0px;top:529px;width:24px;height:1px;background:#d6d6d6;"></div>
<div class="b" style="left:0px;top:549px;width:24px;height:1px;background:#d6d6d6;"></div>
<div class="b" style="left:0px;top:569px;width:24px;height:1px;background:#d6d6d6;"></div>
<div class="b" style="left:0px;top:530px;width:23px;height:19px;background:#d9d9d9;"></div>
<div class="b" style="left:23px;top:529px;width:2px;height:21px;background:#217346;"></div>
<div class="tri" style="left:25px;top:359px;"></div>
<div class="tri" style="left:25px;top:397px;"></div>
<div class="tri" style="left:25px;top:416px;"></div>
<div class="tri" style="left:25px;top:454px;"></div>
<div class="tri" style="left:25px;top:473px;"></div>
<div class="tri" style="left:815px;top:260px;"></div>
<div class="tri" style="left:815px;top:378px;"></div>
<div class="tri" style="left:815px;top:435px;"></div>
<div class="tri" style="left:815px;top:492px;"></div>
<div class="b" style="left:195px;top:528px;width:380px;height:19px;border:2px solid #217346;border-right:none;"></div>
<div class="b" style="left:574px;top:546px;width:3px;height:5px;background:#217346;border-left:1px solid #fff;border-top:1px solid #fff;"></div>
<div id="txt">
<div class="rh" style="top:33px;">2</div>
<div class="rh" style="top:53px;">3</div>
<div class="rh" style="top:73px;">4</div>
<div class="rh" style="top:93px;">5</div>
<div class="rh" style="top:125px;">11</div>
<div class="rh" style="top:143px;">12</div>
<div class="rh" style="top:163px;">982</div>
<div class="rh" style="top:182px;">983</div>
<div class="rh" style="top:202px;">984</div>
<div class="rh" style="top:222px;">985</div>
<div class="rh" style="top:241px;">986</div>
<div class="rh" style="top:260px;">987</div>
<div class="rh" style="top:280px;">988</div>
<div class="rh" style="top:300px;">989</div>
<div class="rh" style="top:319px;">990</div>
<div class="rh" style="top:339px;">991</div>
<div class="rh" style="top:359px;">994</div>
<div class="rh" style="top:378px;">995</div>
<div class="rh" style="top:397px;">999</div>
<div class="rh" style="top:416px;">1000</div>
<div class="rh" style="top:435px;">1001</div>
<div class="rh" style="top:454px;">1002</div>
<div class="rh" style="top:473px;">1003</div>
<div class="rh" style="top:492px;">1004</div>
<div class="rh" style="top:511px;">1005</div>
<div class="rh" style="top:530px;color:#217346;">1006</div>
<div class="rh" style="top:550px;">1007</div>
<div class="rh" style="top:570px;">1008</div>
<div class="t dg" style="left:27.3px;top:13px;">Client:</div>
<div class="t dg" style="left:27.3px;top:33px;">Engagement:</div>
<div class="t dg" style="left:27.3px;top:53px;">Period Ending:</div>
<div class="t dg" style="left:27.3px;top:73px;">Trial Balance:</div>
<div class="t dg" style="left:27.3px;top:93px;">Workpaper:</div>
<div class="t bi" style="left:199.5px;top:53px;letter-spacing:-0.15px;">12/31/2020</div>
<div class="t bi" style="left:199.5px;top:73px;">515 - Annual Trial Balance</div>
<div class="t bi" style="left:199.5px;top:93px;">520-P - Federal Tax Report - 1065</div>
<div class="t c bd w" style="left:25px;top:118px;width:171px;letter-spacing:-0.2px;">Account</div>
<div class="t c bd w" style="left:196px;top:118px;width:381px;letter-spacing:0.1px;">Description</div>
<div class="t c bd w" style="left:579px;top:118px;width:128px;">FINAL</div>
<div class="t c bd w" style="left:737px;top:118px;width:87px;letter-spacing:0.1px;">JE Ref #</div>
<div class="t c bd w" style="left:814px;top:118px;width:130px;">FTJE</div>
<div class="t c bd w" style="left:985px;top:118px;width:128px;">FTAX</div>
<div class="t c bd w" style="left:579.5px;top:144px;width:127.5px;letter-spacing:-0.25px;">12/31/2020</div>
<div class="t c bd w" style="left:985px;top:144px;width:128px;letter-spacing:-0.25px;">12/31/2020</div>
<div class="t bd w" style="left:27.3px;top:182px;">Group : [10]</div>
<div class="t bd w" style="left:198.7px;top:182px;letter-spacing:0.08px;">Guaranteed payments to partners</div>
<div class="t bd" style="left:27.900000000000002px;top:202px;">Subgroup : None</div>
<div class="t " style="left:27.3px;top:222px;">TAX-71</div>
<div class="t " style="left:198.7px;top:222px;">Guaranteed Payments</div>
<div class="t r n" style="left:565.5px;top:222px;width:140px;">306,000.00<span class="sp"></span></div>
<div class="t r n red" style="left:802.2px;top:222px;width:140px;">(<span class="m">306,000.00</span>)</div>
<div class="t r n" style="left:971.5px;top:222px;width:140px;">0.00<span class="sp"></span></div>
<div class="t r n red" style="left:802.2px;top:241px;width:140px;">(<span class="m">306,000.00</span>)</div>
<div class="t " style="left:749px;top:241px;">FTJE - 22</div>
<div class="t bd" style="left:27.900000000000002px;top:260px;">Subtotal : None</div>
<div class="t r n bd" style="left:565.5px;top:260px;width:140px;">306,000.00<span class="sp"></span></div>
<div class="t r n bd red" style="left:801.7px;top:260px;width:140px;">(<span class="m">306,000.00</span>)</div>
<div class="t r n bd" style="left:971.5px;top:260px;width:140px;">0.00<span class="sp"></span></div>
<div class="t bd" style="left:27.900000000000002px;top:280px;letter-spacing:0.06px;">Total [10] Guaranteed payments to partners</div>
<div class="t r n bd" style="left:565.5px;top:280px;width:140px;">306,000.00<span class="sp"></span></div>
<div class="t r n bd red" style="left:801.7px;top:280px;width:140px;">(<span class="m">306,000.00</span>)</div>
<div class="t r n bd" style="left:971.5px;top:280px;width:140px;">0.00<span class="sp"></span></div>
<div class="t bd w" style="left:27.3px;top:319px;">Group : [11]</div>
<div class="t bd w" style="left:198.7px;top:319px;letter-spacing:0.3px;">Repairs</div>
<div class="t bd" style="left:27.900000000000002px;top:339px;">Subgroup : None</div>
<div class="t " style="left:27.3px;top:359px;">27202</div>
<div class="t " style="left:198.7px;top:359px;letter-spacing:-0.2px;">MAINTENANCE - San Antonio</div>
<div class="t r n" style="left:565.5px;top:359px;width:140px;">0.00<span class="sp"></span></div>
<div class="t r n" style="left:802.5px;top:359px;width:140px;">0.00<span class="sp"></span></div>
<div class="t r n" style="left:971.5px;top:359px;width:140px;">0.00<span class="sp"></span></div>
<div class="t r n red" style="left:802.2px;top:378px;width:140px;">(<span class="m">0.00</span>)</div>
<div class="t " style="left:749px;top:378px;">FTJE - 9</div>
<div class="t " style="left:27.3px;top:397px;">5005</div>
<div class="t " style="left:198.7px;top:397px;letter-spacing:-0.12px;">Maintenance</div>
<div class="t r n" style="left:565.5px;top:397px;width:140px;">254,332.00<span class="sp"></span></div>
<div class="t r n" style="left:802.5px;top:397px;width:140px;">0.00<span class="sp"></span></div>
<div class="t r n" style="left:971.5px;top:397px;width:140px;">254,332.00<span class="sp"></span></div>
<div class="t " style="left:27.3px;top:416px;">5202</div>
<div class="t " style="left:198.7px;top:416px;letter-spacing:-0.35px;">MAINTENANCE</div>
<div class="t r n" style="left:565.5px;top:416px;width:140px;">0.00<span class="sp"></span></div>
<div class="t r n red" style="left:802.2px;top:416px;width:140px;">(<span class="m">36,448.00</span>)</div>
<div class="t r n red" style="left:971.2px;top:416px;width:140px;">(<span class="m">36,448.00</span>)</div>
<div class="t r n red" style="left:802.2px;top:435px;width:140px;">(<span class="m">36,448.00</span>)</div>
<div class="t " style="left:749px;top:435px;">FTJE - 6</div>
<div class="t " style="left:27.3px;top:454px;">6120</div>
<div class="t " style="left:198.7px;top:454px;letter-spacing:-0.15px;">BLDG MAINT Expense</div>
<div class="t r n" style="left:565.5px;top:454px;width:140px;">44,198.00<span class="sp"></span></div>
<div class="t r n" style="left:802.5px;top:454px;width:140px;">0.00<span class="sp"></span></div>
<div class="t r n" style="left:971.5px;top:454px;width:140px;">44,198.00<span class="sp"></span></div>
<div class="t " style="left:27.3px;top:473px;">6219</div>
<div class="t " style="left:198.7px;top:473px;letter-spacing:-0.18px;">BLDG MAINT EXPENSE</div>
<div class="t r n" style="left:565.5px;top:473px;width:140px;">0.00<span class="sp"></span></div>
<div class="t r n red" style="left:802.2px;top:473px;width:140px;">(<span class="m">4,991.00</span>)</div>
<div class="t r n red" style="left:971.2px;top:473px;width:140px;">(<span class="m">4,991.00</span>)</div>
<div class="t r n red" style="left:802.2px;top:492px;width:140px;">(<span class="m">4,991.00</span>)</div>
<div class="t " style="left:749px;top:492px;">FTJE - 6</div>
<div class="t " style="left:27.3px;top:511px;letter-spacing:0.1px;">CTE6110</div>
<div class="t " style="left:198.7px;top:511px;letter-spacing:0.1px;">Dexter Small Tools Expense</div>
<div class="t r n" style="left:565.5px;top:511px;width:140px;">300.00<span class="sp"></span></div>
<div class="t r n" style="left:802.5px;top:511px;width:140px;">0.00<span class="sp"></span></div>
<div class="t r n" style="left:971.5px;top:511px;width:140px;">300.00<span class="sp"></span></div>
<div class="t bd" style="left:27.900000000000002px;top:530px;">Subtotal : None</div>
<div class="t r n bd" style="left:565.5px;top:530px;width:140px;">298,830.00<span class="sp"></span></div>
<div class="t r n bd red" style="left:801.7px;top:530px;width:140px;">(<span class="m">41,439.00</span>)</div>
<div class="t r n bd" style="left:971.5px;top:530px;width:140px;">257,391.00<span class="sp"></span></div>
<div class="t bd" style="left:27.900000000000002px;top:550px;letter-spacing:0.16px;">Total [11] Repairs</div>
<div class="t r n bd" style="left:565.5px;top:550px;width:140px;">298,830.00<span class="sp"></span></div>
<div class="t r n bd red" style="left:801.7px;top:550px;width:140px;">(<span class="m">41,439.00</span>)</div>
<div class="t r n bd" style="left:971.5px;top:550px;width:140px;">257,391.00<span class="sp"></span></div>
</div>
</div>
<div class="b" style="left:426px;top:11px;width:6px;height:2px;background:#2a6a48;border-radius:1px 1px 0 0;"></div>
<div class="b" style="left:515px;top:12px;width:2px;height:1px;background:#4d7a62;"></div>
<div class="b" style="left:538px;top:12px;width:2px;height:1px;background:#4d7a62;"></div>
<div class="b" style="left:566px;top:12px;width:2px;height:1px;background:#4d7a62;"></div>
</body></html>
